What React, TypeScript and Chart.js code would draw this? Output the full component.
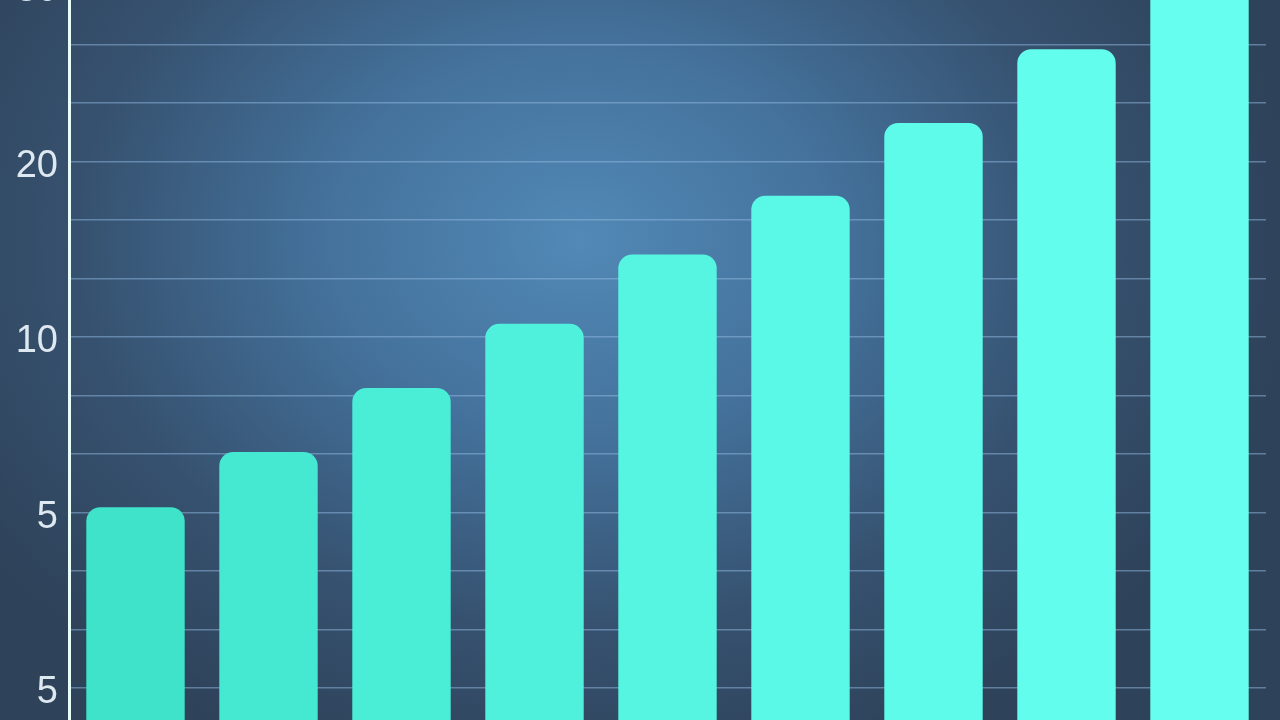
import React, { useEffect, useRef } from "react";
import { Chart, registerables } from "chart.js";

Chart.register(...registerables);

const categories = ["1", "2", "3", "4", "5", "6", "7", "8", "9"];
const values = [0.3, 3.45, 7.1, 10.75, 14.7, 18.05, 22.2, 26.4, 31.5];
const barColors = [
  "#3fe3ca",
  "#45e8d0",
  "#4aedd6",
  "#50f1dc",
  "#56f5e2",
  "#5af8e6",
  "#5efbea",
  "#62fdec",
  "#66ffef",
];
const tickValues = [-10, 0, 10, 20, 30];
const tickLabels = ["5", "5", "10", "20", "30"];
const yMin = -40 / 3;
const yMax = 100 / 3;
const yStep = 10 / 3;

export default function App() {
  const canvasRef = useRef<HTMLCanvasElement | null>(null);

  useEffect(() => {
    document.body.style.margin = "0";
    const ctx = canvasRef.current;
    if (!ctx) return;
    const chart = new Chart(ctx, {
      type: "bar",
      data: {
        labels: categories,
        datasets: [
          {
            data: values,
            backgroundColor: barColors,
            borderWidth: 0,
            borderRadius: 14,
            borderSkipped: "start",
            base: yMin,
            barPercentage: 0.74,
            categoryPercentage: 1,
          } as any,
        ],
      },
      options: {
        animation: false,
        responsive: true,
        maintainAspectRatio: false,
        layout: { padding: { top: 27.5, bottom: 33.5, left: 0, right: 14 } },
        plugins: { legend: { display: false }, tooltip: { enabled: false } },
        scales: {
          x: { display: false },
          y: {
            min: yMin,
            max: yMax,
            afterFit: (scale: any) => {
              scale.width = 69;
              scale.paddingTop = 0;
              scale.paddingBottom = 0;
            },
            ticks: {
              stepSize: yStep,
              padding: 11,
              labelOffset: 5,
              autoSkip: false,
              color: "#dde8f0",
              font: { family: "'Liberation Sans', Arial, sans-serif", size: 38 },
              callback: (value: any) => {
                const i = tickValues.findIndex((t) => Math.abs(t - Number(value)) < 1e-4);
                return i >= 0 ? tickLabels[i] : "";
              },
            },
            grid: {
              color: "rgba(145, 185, 225, 0.5)",
              lineWidth: 1.5,
              drawTicks: false,
            },
            border: { color: "#e8fdf8", width: 3 },
          },
        },
      },
    });
    return () => chart.destroy();
  }, []);

  return (
    <div>
      <div
        style={{
          position: "fixed",
          left: 0,
          top: 0,
          width: 1280,
          height: 720,
          background:
            "radial-gradient(ellipse 720px 560px at 580px 240px, #5289b6 0%, #44729c 35%, #36516f 70%, #2e4259 100%)",
        }}
      />
      <div
        style={{
          position: "fixed",
          left: 0,
          top: -100,
          width: 1280,
          height: 880,
        }}
      >
        <canvas ref={canvasRef} />
      </div>
    </div>
  );
}
